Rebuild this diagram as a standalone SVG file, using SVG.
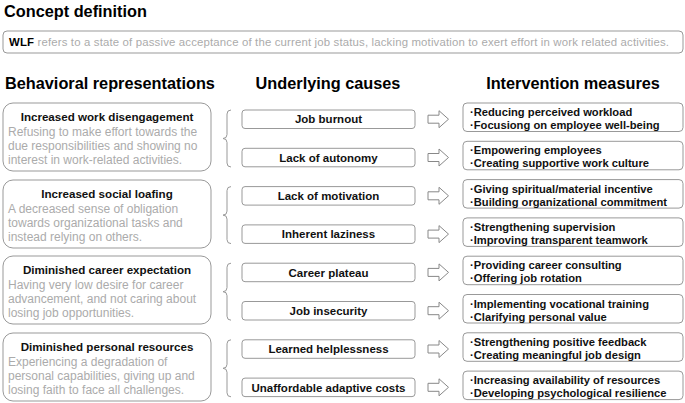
<svg xmlns="http://www.w3.org/2000/svg" width="685" height="403" viewBox="0 0 685 403">
<style>
text{font-family:"Liberation Sans",Arial,Helvetica,sans-serif}
.h{font-size:16.3px;font-weight:bold;fill:#000}
.box{fill:#fff;stroke:#999;stroke-width:1}
.lt{font-size:11.6px;font-weight:bold;fill:#111;text-anchor:middle}
.lb{font-size:12px;fill:#ababab}
.mt{font-size:11.5px;font-weight:bold;fill:#111;text-anchor:middle}
.rt{font-size:11.2px;font-weight:bold;fill:#111}
.br{fill:none;stroke:#999;stroke-width:1}
.ar{fill:#fff;stroke:#888;stroke-width:1}
</style>
<rect width="685" height="403" fill="#fff"/>
<g id="header">
<text class="h" x="4" y="17">Concept definition</text>
<rect class="box" x="3" y="31" width="680" height="22" rx="4"/>
<text x="9" y="46" font-size="11.4px" fill="#ababab" textLength="660" lengthAdjust="spacing"><tspan font-weight="bold" fill="#000">WLF</tspan> refers to a state of passive acceptance of the current job status, lacking motivation to exert effort in work related activities.</text>
<text class="h" x="5" y="88.5">Behavioral representations</text>
<text class="h" x="328" y="88.5" text-anchor="middle">Underlying causes</text>
<text class="h" x="573" y="88.5" text-anchor="middle">Intervention measures</text>
</g>
<g id="b1"><rect class="box" x="3" y="103" width="208" height="68" rx="10"/><text class="lt" x="107" y="121">Increased work disengagement</text><text class="lb" x="8" y="136">Refusing to make effort towards the</text><text class="lb" x="8" y="150">due responsibilities and showing no</text><text class="lb" x="8" y="164">interest in work-related activities.</text></g>
<g id="b2"><rect class="box" x="3" y="180" width="208" height="68" rx="10"/><text class="lt" x="107" y="198">Increased social loafing</text><text class="lb" x="8" y="213">A decreased sense of obligation</text><text class="lb" x="8" y="227">towards organizational tasks and</text><text class="lb" x="8" y="241">instead relying on others.</text></g>
<g id="b3"><rect class="box" x="3" y="256" width="208" height="68" rx="10"/><text class="lt" x="107" y="274">Diminished career expectation</text><text class="lb" x="8" y="289">Having very low desire for career</text><text class="lb" x="8" y="303">advancement, and not caring about</text><text class="lb" x="8" y="317">losing job opportunities.</text></g>
<g id="b4"><rect class="box" x="3" y="333" width="208" height="68" rx="10"/><text class="lt" x="107" y="351">Diminished personal resources</text><text class="lb" x="8" y="366">Experiencing a degradation of</text><text class="lb" x="8" y="380">personal capabilities, giving up and</text><text class="lb" x="8" y="394">losing faith to face all challenges.</text></g>
<g id="c1"><rect class="box" x="242" y="110" width="173" height="18.5" rx="3"/><text class="mt" x="328.5" y="123.4">Job burnout</text></g>
<g id="c2"><rect class="box" x="242" y="148.3" width="173" height="18.5" rx="3"/><text class="mt" x="328.5" y="161.7">Lack of autonomy</text></g>
<g id="c3"><rect class="box" x="242" y="186.6" width="173" height="18.5" rx="3"/><text class="mt" x="328.5" y="200">Lack of motivation</text></g>
<g id="c4"><rect class="box" x="242" y="224.9" width="173" height="18.5" rx="3"/><text class="mt" x="328.5" y="238.3">Inherent laziness</text></g>
<g id="c5"><rect class="box" x="242" y="263.2" width="173" height="18.5" rx="3"/><text class="mt" x="328.5" y="276.6">Career plateau</text></g>
<g id="c6"><rect class="box" x="242" y="301.5" width="173" height="18.5" rx="3"/><text class="mt" x="328.5" y="314.9">Job insecurity</text></g>
<g id="c7"><rect class="box" x="242" y="339.8" width="173" height="18.5" rx="3"/><text class="mt" x="328.5" y="353.2">Learned helplessness</text></g>
<g id="c8"><rect class="box" x="242" y="378.1" width="173" height="18.5" rx="3"/><text class="mt" x="328.5" y="391.5">Unaffordable adaptive costs</text></g>
<g id="m1"><rect class="box" x="463" y="103" width="220" height="28.5" rx="4"/><text class="rt" x="470" y="116">·Reducing perceived workload</text><text class="rt" x="470" y="129">·Focusiong on employee well-being</text></g>
<g id="m2"><rect class="box" x="463" y="141.3" width="220" height="28.5" rx="4"/><text class="rt" x="470" y="154.3">·Empowering employees</text><text class="rt" x="470" y="167.3">·Creating supportive work culture</text></g>
<g id="m3"><rect class="box" x="463" y="179.6" width="220" height="28.5" rx="4"/><text class="rt" x="470" y="192.6">·Giving spiritual/material incentive</text><text class="rt" x="470" y="205.6">·Building organizational commitment</text></g>
<g id="m4"><rect class="box" x="463" y="217.9" width="220" height="28.5" rx="4"/><text class="rt" x="470" y="230.9">·Strengthening supervision</text><text class="rt" x="470" y="243.9">·Improving transparent teamwork</text></g>
<g id="m5"><rect class="box" x="463" y="256.2" width="220" height="28.5" rx="4"/><text class="rt" x="470" y="269.2">·Providing career consulting</text><text class="rt" x="470" y="282.2">·Offering job rotation</text></g>
<g id="m6"><rect class="box" x="463" y="294.5" width="220" height="28.5" rx="4"/><text class="rt" x="470" y="307.5">·Implementing vocational training</text><text class="rt" x="470" y="320.5">·Clarifying personal value</text></g>
<g id="m7"><rect class="box" x="463" y="332.8" width="220" height="28.5" rx="4"/><text class="rt" x="470" y="345.8">·Strengthening positive feedback</text><text class="rt" x="470" y="358.8">·Creating meaningful job design</text></g>
<g id="m8"><rect class="box" x="463" y="371.1" width="220" height="28.5" rx="4"/><text class="rt" x="470" y="384.1">·Increasing availability of resources</text><text class="rt" x="470" y="397.1">·Developing psychological resilience</text></g>
<g id="connectors">
<path class="br" d="M231,110 Q227,110 227,114 L227,134.5 Q227,138.5 223,138.5 Q227,138.5 227,142.5 L227,163 Q227,167 231,167"/>
<path class="br" d="M231,186.6 Q227,186.6 227,190.6 L227,211.1 Q227,215.1 223,215.1 Q227,215.1 227,219.1 L227,239.6 Q227,243.6 231,243.6"/>
<path class="br" d="M231,263.2 Q227,263.2 227,267.2 L227,287.7 Q227,291.7 223,291.7 Q227,291.7 227,295.7 L227,316.2 Q227,320.2 231,320.2"/>
<path class="br" d="M231,339.8 Q227,339.8 227,343.8 L227,364.3 Q227,368.3 223,368.3 Q227,368.3 227,372.3 L227,392.8 Q227,396.8 231,396.8"/>
<polygon class="ar" points="428,115.2 439,115.2 439,110.7 448.5,119.2 439,127.7 439,123.2 428,123.2"/>
<polygon class="ar" points="428,153.5 439,153.5 439,149 448.5,157.5 439,166 439,161.5 428,161.5"/>
<polygon class="ar" points="428,191.8 439,191.8 439,187.3 448.5,195.8 439,204.3 439,199.8 428,199.8"/>
<polygon class="ar" points="428,230.1 439,230.1 439,225.6 448.5,234.1 439,242.6 439,238.1 428,238.1"/>
<polygon class="ar" points="428,268.4 439,268.4 439,263.9 448.5,272.4 439,280.9 439,276.4 428,276.4"/>
<polygon class="ar" points="428,306.7 439,306.7 439,302.2 448.5,310.7 439,319.2 439,314.7 428,314.7"/>
<polygon class="ar" points="428,345 439,345 439,340.5 448.5,349 439,357.5 439,353 428,353"/>
<polygon class="ar" points="428,383.3 439,383.3 439,378.8 448.5,387.3 439,395.8 439,391.3 428,391.3"/>
</g>
</svg>
